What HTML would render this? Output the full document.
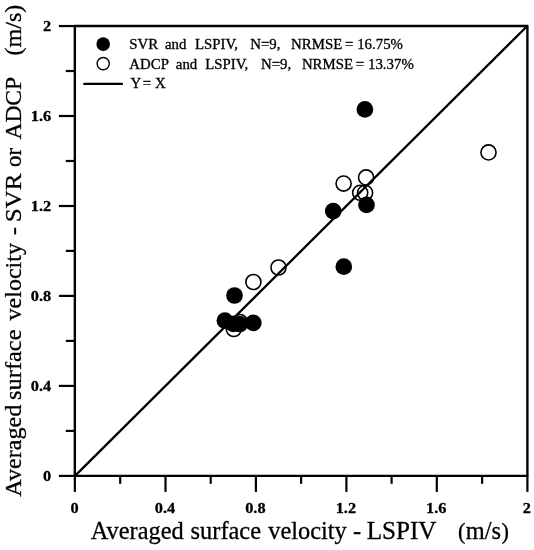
<!DOCTYPE html>
<html><head><meta charset="utf-8"><title>Averaged surface velocity</title>
<style>
html,body{margin:0;padding:0;background:#fff}
svg{display:block}
text{font-family:"Liberation Serif",serif;fill:#000;white-space:pre;stroke:#000;stroke-width:0.3px}
.tk{font-weight:bold;font-size:15.55px}
.lg{font-size:13.9px}
</style></head><body>
<svg width="534" height="550" viewBox="0 0 534 550">
<rect width="534" height="550" fill="#fff"/>
<!-- frame -->
<rect x="74.85" y="26.05" width="452.55" height="449.85" fill="none" stroke="#000" stroke-width="2.4" stroke-linejoin="round"/>
<!-- ticks -->
<g stroke="#000" stroke-width="2.2" fill="none">
<line x1="58.9" y1="475.9" x2="75.0" y2="475.9"/>
<line x1="74.85" y1="475.9" x2="74.85" y2="491.9"/>
<line x1="65.8" y1="430.9" x2="75.0" y2="430.9"/>
<line x1="120.2" y1="475.9" x2="120.2" y2="483.8"/>
<line x1="58.9" y1="385.9" x2="75.0" y2="385.9"/>
<line x1="165.5" y1="475.9" x2="165.5" y2="491.9"/>
<line x1="65.8" y1="340.9" x2="75.0" y2="340.9"/>
<line x1="210.7" y1="475.9" x2="210.7" y2="483.8"/>
<line x1="58.9" y1="295.9" x2="75.0" y2="295.9"/>
<line x1="255.9" y1="475.9" x2="255.9" y2="491.9"/>
<line x1="65.8" y1="250.9" x2="75.0" y2="250.9"/>
<line x1="301.1" y1="475.9" x2="301.1" y2="483.8"/>
<line x1="58.9" y1="206.0" x2="75.0" y2="206.0"/>
<line x1="346.4" y1="475.9" x2="346.4" y2="491.9"/>
<line x1="65.8" y1="161.0" x2="75.0" y2="161.0"/>
<line x1="391.6" y1="475.9" x2="391.6" y2="483.8"/>
<line x1="58.9" y1="116.0" x2="75.0" y2="116.0"/>
<line x1="436.8" y1="475.9" x2="436.8" y2="491.9"/>
<line x1="65.8" y1="71.0" x2="75.0" y2="71.0"/>
<line x1="482.1" y1="475.9" x2="482.1" y2="483.8"/>
<line x1="58.9" y1="26.05" x2="75.0" y2="26.05"/>
<line x1="527.4" y1="475.9" x2="527.4" y2="491.9"/>
</g>
<!-- Y = X line -->
<line x1="75.0" y1="475.9" x2="527.3" y2="26.0" stroke="#000" stroke-width="2.3"/>
<!-- ADCP open circles -->
<g fill="none" stroke="#000" stroke-width="1.6">
<circle cx="233.8" cy="329.0" r="7.55"/>
<circle cx="240.0" cy="322.1" r="7.55"/>
<circle cx="253.4" cy="282.0" r="7.55"/>
<circle cx="278.5" cy="267.5" r="7.55"/>
<circle cx="343.6" cy="183.6" r="7.55"/>
<circle cx="360.2" cy="192.8" r="7.55"/>
<circle cx="365.1" cy="192.8" r="7.55"/>
<circle cx="366.1" cy="177.4" r="7.55"/>
<circle cx="488.5" cy="152.4" r="7.55"/>
</g>
<!-- SVR filled circles -->
<g fill="#000" stroke="none">
<circle cx="224.9" cy="320.6" r="8.35"/>
<circle cx="233.3" cy="323.9" r="8.35"/>
<circle cx="239.8" cy="324.2" r="8.35"/>
<circle cx="253.3" cy="322.9" r="8.35"/>
<circle cx="234.5" cy="295.5" r="8.35"/>
<circle cx="333.2" cy="211.1" r="8.35"/>
<circle cx="343.8" cy="266.7" r="8.35"/>
<circle cx="366.5" cy="204.9" r="8.35"/>
<circle cx="364.9" cy="109.4" r="8.35"/>
</g>
<!-- legend -->
<circle cx="103.2" cy="44.1" r="6.8" fill="#000"/>
<circle cx="103.2" cy="63.6" r="6.1" fill="none" stroke="#000" stroke-width="1.4"/>
<line x1="84.3" y1="83.9" x2="121.9" y2="83.9" stroke="#000" stroke-width="2.4" stroke-linecap="round"/>
<g class="lg" transform="scale(1.068 1)">
<text y="49.4"><tspan x="120.97">SVR </tspan><tspan x="154.49">and </tspan><tspan x="182.49">LSPIV, </tspan><tspan x="234.27">N=9, </tspan><tspan x="272.57">NRMSE </tspan><tspan x="322.94">= </tspan><tspan x="334.46">16.75% </tspan></text>
<text y="68.9"><tspan x="121.07">ADCP </tspan><tspan x="164.61">and </tspan><tspan x="192.13">LSPIV, </tspan><tspan x="244.38">N=9, </tspan><tspan x="282.68">NRMSE </tspan><tspan x="333.05">= </tspan><tspan x="344.57">13.37% </tspan></text>
<text y="88.5"><tspan x="122.10">Y </tspan><tspan x="133.71">= </tspan><tspan x="145.22">X </tspan></text>
</g>
<!-- x tick labels -->
<g class="tk" text-anchor="middle">
<text transform="translate(74.5 512.9) scale(1.05 1)">0</text>
<text transform="translate(165.0 512.9) scale(1.05 1)">0.4</text>
<text transform="translate(255.4 512.9) scale(1.05 1)">0.8</text>
<text transform="translate(345.9 512.9) scale(1.05 1)">1.2</text>
<text transform="translate(436.3 512.9) scale(1.05 1)">1.6</text>
<text transform="translate(526.8 512.9) scale(1.05 1)">2</text>
</g>
<!-- y tick labels -->
<g class="tk" text-anchor="end">
<text transform="translate(51.2 481.25) scale(1.05 1)">0</text>
<text transform="translate(51.2 391.27) scale(1.05 1)">0.4</text>
<text transform="translate(51.2 301.29) scale(1.05 1)">0.8</text>
<text transform="translate(51.2 211.31) scale(1.05 1)">1.2</text>
<text transform="translate(51.2 121.33) scale(1.05 1)">1.6</text>
<text transform="translate(51.2 31.35) scale(1.05 1)">2</text>
</g>
<!-- axis titles -->
<g style="font-size:24.3px">
<text transform="translate(90.73 539.3) scale(1.0040 1)">Averaged</text>
<text transform="translate(190.62 539.3) scale(1.0040 1)">surface</text>
<text transform="translate(268.20 539.3) scale(1.0040 1)">velocity</text>
<text transform="translate(352.97 539.3) scale(1.0040 1)">-</text>
<text transform="translate(366.71 539.3) scale(1.0341 1)">LSPIV</text>
<text transform="translate(457.92 539.3) scale(1.0040 1)"><tspan font-size="22.2">(</tspan><tspan dx="0.5">m/s</tspan><tspan font-size="22.2" dx="0.5">)</tspan></text>
</g>
<g style="font-size:23.2px">
<text transform="translate(21.2 496.67) rotate(-90) scale(1.0391 1)">Averaged</text>
<text transform="translate(21.2 399.88) rotate(-90) scale(1.0517 1)">surface</text>
<text transform="translate(21.2 320.40) rotate(-90) scale(1.0349 1)">velocity</text>
<text transform="translate(21.2 235.23) rotate(-90) scale(1.0517 1)">-</text>
<text transform="translate(21.2 222.36) rotate(-90) scale(1.0833 1)">SVR</text>
<text transform="translate(21.2 166.93) rotate(-90) scale(0.9833 1)">or</text>
<text transform="translate(21.2 139.60) rotate(-90) scale(1.0138 1)">ADCP</text>
<text transform="translate(21.2 55.48) rotate(-90) scale(1.0359 1)">(m/s)</text>
</g>
</svg>
</body></html>
